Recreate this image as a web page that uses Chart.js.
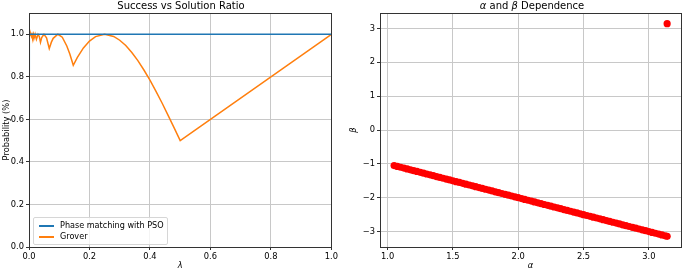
<!DOCTYPE html>
<html>
<head>
<meta charset="utf-8">
<script src="https://cdn.jsdelivr.net/npm/chart.js@4.4.1/dist/chart.umd.min.js"></script>
<style>
    body { margin: 0; background: #fff; font-family: "DejaVu Sans", sans-serif; }
    #wrap { position: relative; width: 685px; height: 271px; overflow: hidden; }
    .box { position: absolute; top: 0; height: 271px; }
    .box canvas { display: block; }
    .title { position: absolute; top: 0; font-size: 10px; line-height: 12px; color: #000; white-space: nowrap; transform: translateX(-50%); }
    #legend { position: absolute; left: 33px; top: 217px; width: 133px; height: 26px; border: 1px solid #d6d6d6; border-radius: 2px; background: rgba(255,255,255,0.8); font-size: 8.1px; color: #000; }
    .row { position: absolute; left: 0; height: 10px; line-height: 10px; }
    .swatch { position: absolute; left: 5px; top: 5px; width: 15px; height: 1.5px; }
    .lbl { position: absolute; left: 26px; top: 0; white-space: nowrap; }
</style>
</head>
<body>
<div id="wrap">
    <div class="box" style="left:0;width:340px"><canvas id="successChart" width="340" height="271"></canvas></div>
    <div class="box" style="left:340px;width:345px"><canvas id="dependenceChart" width="345" height="271"></canvas></div>
    <div class="title" style="left:181px">Success vs Solution Ratio</div>
    <div class="title" style="left:532px"><i>α</i> and <i>β</i> Dependence</div>
    <div id="legend">
        <div class="row" style="top:2px"><div class="swatch" style="background:#1f77b4"></div><span class="lbl">Phase matching with PSO</span></div>
        <div class="row" style="top:13px"><div class="swatch" style="background:#ff7f0e"></div><span class="lbl">Grover</span></div>
    </div>
</div>
<script>
/* Left panel data */

const psoLambda = [0, 0.001, 1];
const psoProb = [0.83, 1.0, 1.0];

const groverLambda = [
    0.000, 0.004, 0.006, 0.008, 0.010, 0.0125, 0.0145, 0.017, 0.0203, 0.0245,
    0.030, 0.034, 0.038, 0.042, 0.0495, 0.058, 0.067, 0.074, 0.080, 0.0955,
    0.110, 0.125, 0.135, 0.1464, 0.160, 0.180, 0.200, 0.220, 0.250, 0.280,
    0.300, 0.320, 0.340, 0.360, 0.380, 0.400, 0.420, 0.440, 0.460, 0.480,
    0.500, 1.000
];
const groverProb = [
    1.000, 0.995, 1.000, 0.990, 1.000, 0.987, 1.000, 0.983, 1.000, 0.976,
    1.000, 0.990, 0.962, 0.984, 1.000, 0.983, 0.933, 0.963, 0.981, 1.000,
    0.986, 0.945, 0.907, 0.854, 0.891, 0.936, 0.968, 0.989, 1.000, 0.990,
    0.972, 0.947, 0.914, 0.876, 0.832, 0.784, 0.732, 0.677, 0.619, 0.560,
    0.500, 1.000
];

const leftXTicks = [0, 0.2, 0.4, 0.6, 0.8, 1.0];
const leftYTicks = [0, 0.2, 0.4, 0.6, 0.8, 1.0];

/* Right panel data */

const alphaValues = [
    1.050, 1.075, 1.100, 1.125, 1.150, 1.175, 1.200, 1.225, 1.250, 1.275,
    1.300, 1.325, 1.350, 1.375, 1.400, 1.425, 1.450, 1.475, 1.500, 1.525,
    1.550, 1.575, 1.600, 1.625, 1.650, 1.675, 1.700, 1.725, 1.750, 1.775,
    1.800, 1.825, 1.850, 1.875, 1.900, 1.925, 1.950, 1.975, 2.000, 2.025,
    2.050, 2.075, 2.100, 2.125, 2.150, 2.175, 2.200, 2.225, 2.250, 2.275,
    2.300, 2.325, 2.350, 2.375, 2.400, 2.425, 2.450, 2.475, 2.500, 2.525,
    2.550, 2.575, 2.600, 2.625, 2.650, 2.675, 2.700, 2.725, 2.750, 2.775,
    2.800, 2.825, 2.850, 2.875, 2.900, 2.925, 2.950, 2.975, 3.000, 3.025,
    3.050, 3.075, 3.100, 3.125, 3.140, 3.140
];
const betaValues = [
    -1.050, -1.075, -1.100, -1.125, -1.150, -1.175, -1.200, -1.225, -1.250, -1.275,
    -1.300, -1.325, -1.350, -1.375, -1.400, -1.425, -1.450, -1.475, -1.500, -1.525,
    -1.550, -1.575, -1.600, -1.625, -1.650, -1.675, -1.700, -1.725, -1.750, -1.775,
    -1.800, -1.825, -1.850, -1.875, -1.900, -1.925, -1.950, -1.975, -2.000, -2.025,
    -2.050, -2.075, -2.100, -2.125, -2.150, -2.175, -2.200, -2.225, -2.250, -2.275,
    -2.300, -2.325, -2.350, -2.375, -2.400, -2.425, -2.450, -2.475, -2.500, -2.525,
    -2.550, -2.575, -2.600, -2.625, -2.650, -2.675, -2.700, -2.725, -2.750, -2.775,
    -2.800, -2.825, -2.850, -2.875, -2.900, -2.925, -2.950, -2.975, -3.000, -3.025,
    -3.050, -3.075, -3.100, -3.125, -3.140, 3.140
];

const rightXTicks = [1.0, 1.5, 2.0, 2.5, 3.0];
const rightYTicks = [-3, -2, -1, 0, 1, 2, 3];

/* Shared styling */

const tickFont = { family: "DejaVu Sans", size: 8.3 };
const gridColor = "#c8c8c8";
const spineColor = "#333333";

const frame = {
    id: "frame",
    afterDraw(chart) {
        const { ctx, chartArea } = chart;
        ctx.save();
        ctx.strokeStyle = spineColor;
        ctx.lineWidth = 1;
        ctx.strokeRect(
            Math.round(chartArea.left) + 0.5,
            Math.round(chartArea.top) + 0.5,
            Math.round(chartArea.right - chartArea.left),
            Math.round(chartArea.bottom - chartArea.top)
        );
        ctx.restore();
    }
};

function axis(min, max, ticks, format, size, title) {
    return {
        type: "linear",
        min,
        max,
        afterBuildTicks: scale => {
            scale.ticks = ticks.map(value => ({ value }));
        },
        afterFit: scale => {
            if (scale.isHorizontal()) scale.height = size;
            else scale.width = size;
        },
        ticks: {
            color: "#000",
            font: tickFont,
            padding: 2,
            maxRotation: 0,
            autoSkip: false,
            callback: format
        },
        grid: {
            color: gridColor,
            lineWidth: 1,
            tickLength: 3,
            tickColor: spineColor
        },
        border: { display: true, color: spineColor },
        title: {
            display: true,
            text: title.text,
            color: "#000",
            font: { family: "DejaVu Sans", size: 8.3, style: title.italic ? "italic" : "normal" },
            padding: title.padding
        }
    };
}

const oneDecimal = value => value.toFixed(1);
const integerMinus = value => String(value).replace("-", "\u2212");

/* Success vs Solution Ratio */

new Chart(document.querySelector("#successChart"), {
    type: "line",
    data: {
        datasets: [
            {
                label: "Phase matching with PSO",
                data: psoLambda.map((x, i) => ({ x, y: psoProb[i] })),
                borderColor: "#1f77b4",
                borderWidth: 1.5,
                pointRadius: 0,
                tension: 0
            },
            {
                label: "Grover",
                data: groverLambda.map((x, i) => ({ x, y: groverProb[i] })),
                borderColor: "#ff7f0e",
                borderWidth: 1.5,
                pointRadius: 0,
                tension: 0
            }
        ]
    },
    options: {
        responsive: false,
        animation: false,
        devicePixelRatio: 1,
        layout: { padding: { top: 13, right: 7, left: 0, bottom: 0 } },
        plugins: { legend: { display: false }, tooltip: { enabled: false } },
        scales: {
            x: axis(0, 1, leftXTicks, oneDecimal, 24, { text: "\u03bb", italic: true, padding: { top: 0, bottom: 0 } }),
            y: axis(0, 1.1, leftYTicks, oneDecimal, 29, { text: "Probability (%)", italic: false, padding: { top: 2, bottom: 0 } })
        }
    },
    plugins: [frame]
});

/* Alpha and beta dependence */

new Chart(document.querySelector("#dependenceChart"), {
    type: "scatter",
    data: {
        datasets: [
            {
                data: alphaValues.map((x, i) => ({ x, y: betaValues[i] })),
                backgroundColor: "#ff0000",
                borderWidth: 0,
                pointRadius: 3.6
            }
        ]
    },
    options: {
        responsive: false,
        animation: false,
        devicePixelRatio: 1,
        layout: { padding: { top: 13, right: 1, left: 0, bottom: 0 } },
        plugins: { legend: { display: false }, tooltip: { enabled: false } },
        scales: {
            x: axis(0.942, 3.246, rightXTicks, oneDecimal, 24, { text: "\u03b1", italic: true, padding: { top: 0, bottom: 0 } }),
            y: axis(-3.456, 3.456, rightYTicks, integerMinus, 40, { text: "\u03b2", italic: true, padding: { top: 9, bottom: 0 } })
        }
    },
    plugins: [frame]
});
</script>
</body>
</html>
